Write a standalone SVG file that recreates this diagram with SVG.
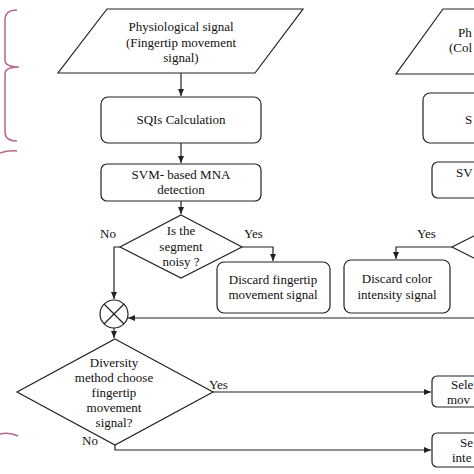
<svg xmlns="http://www.w3.org/2000/svg" width="474" height="474" viewBox="0 0 474 474">
<style>
.s{fill:#fff;stroke:#222;stroke-width:1.2}
.t{font-family:"Liberation Serif","DejaVu Serif",serif;font-size:13px;fill:#111;text-anchor:middle}
.ts{font-family:"Liberation Serif","DejaVu Serif",serif;font-size:13px;fill:#111}
.c{fill:none;stroke:#222;stroke-width:1.2}
.p{fill:none;stroke:#b5678a;stroke-width:1.5}
</style>
<defs>
<marker id="a" markerWidth="8" markerHeight="8" refX="7" refY="4" orient="auto" markerUnits="userSpaceOnUse">
<path d="M0,1 L7,4 L0,7 Z" fill="#222"/>
</marker>
</defs>
<g id="marks">
<path class="p" d="M17,10 Q5,10 5,20 L5,60 Q5,67 19,67 Q5,67 5,74 L5,132 Q5,141 17,141"/>
<path class="p" d="M0,153 Q8,150 17,151"/>
<path class="p" d="M0,434 Q10,432 18,436"/>
</g>
<g id="input1">
<polygon class="s" points="107,9 303,9 255,73 58,73"/>
<text class="t" x="181" y="31">Physiological signal</text>
<text class="t" x="181" y="47">(Fingertip movement</text>
<text class="t" x="181" y="62">signal)</text>
</g>
<g id="sqi1">
<rect class="s" x="101" y="97" width="160" height="46" rx="7"/>
<text class="t" x="181" y="124">SQIs Calculation</text>
</g>
<g id="svm1">
<rect class="s" x="101" y="164" width="160" height="37" rx="6"/>
<text class="t" x="181" y="179">SVM- based MNA</text>
<text class="t" x="181" y="194">detection</text>
</g>
<g id="dec1">
<polygon class="s" points="181,215 242,247 181,278 120,247"/>
<text class="t" x="181" y="235">Is the</text>
<text class="t" x="181" y="251">segment</text>
<text class="t" x="181" y="266">noisy ?</text>
</g>
<g id="discard1">
<rect class="s" x="217" y="262" width="113" height="51" rx="7"/>
<text class="t" x="273" y="284">Discard fingertip</text>
<text class="t" x="273" y="299">movement signal</text>
</g>
<g id="input2">
<polygon class="s" points="443,9 560,9 510,74 396,74"/>
<text class="ts" x="458" y="37">Ph</text>
<text class="ts" x="449" y="52">(Col</text>
</g>
<g id="sqi2">
<rect class="s" x="423" y="93" width="120" height="50" rx="7"/>
<text class="ts" x="465" y="124">S</text>
</g>
<g id="svm2">
<rect class="s" x="432" y="162" width="110" height="36" rx="6"/>
<text class="ts" x="456" y="177">SV</text>
</g>
<g id="dec2">
<polygon class="s" points="513,216 574,247 513,278 452,247"/>
</g>
<g id="discard2">
<rect class="s" x="344" y="260" width="106" height="53" rx="7"/>
<text class="t" x="397" y="283">Discard color</text>
<text class="t" x="397" y="299">intensity signal</text>
</g>
<g id="join">
<circle class="s" cx="114" cy="314" r="14"/>
<path class="c" d="M104,304 L124,324 M124,304 L104,324"/>
</g>
<g id="dec3">
<polygon class="s" points="115,339 213,392 115,445 17,392"/>
<text class="t" x="114" y="367">Diversity</text>
<text class="t" x="114" y="382">method choose</text>
<text class="t" x="114" y="397">fingertip</text>
<text class="t" x="114" y="412">movement</text>
<text class="t" x="114" y="427">signal?</text>
</g>
<g id="select1">
<rect class="s" x="432" y="376" width="100" height="31" rx="5"/>
<text class="ts" x="451" y="389">Sele</text>
<text class="ts" x="447" y="404">mov</text>
</g>
<g id="select2">
<rect class="s" x="432" y="433" width="100" height="34" rx="5"/>
<text class="ts" x="460" y="447">Se</text>
<text class="ts" x="452" y="462">inte</text>
</g>
<g id="connectors">
<path class="c" d="M181,73 L181,96" marker-end="url(#a)"/>
<path class="c" d="M181,143 L181,163" marker-end="url(#a)"/>
<path class="c" d="M181,201 L181,214" marker-end="url(#a)"/>
<path class="c" d="M242,247 L273,247 L273,261" marker-end="url(#a)"/>
<path class="c" d="M120,247 L114,247 L114,299" marker-end="url(#a)"/>
<path class="c" d="M474,318 L128,318" marker-end="url(#a)"/>
<path class="c" d="M114,328 L114,338" marker-end="url(#a)"/>
<path class="c" d="M213,392 L431,392" marker-end="url(#a)"/>
<path class="c" d="M115,445 L115,450 L431,450" marker-end="url(#a)"/>
<path class="c" d="M452,247 L396,247 L396,259" marker-end="url(#a)"/>
</g>
<g id="labels">
<text class="ts" x="100" y="238">No</text>
<text class="ts" x="244" y="238">Yes</text>
<text class="ts" x="417" y="238">Yes</text>
<text class="ts" x="209" y="389">Yes</text>
<text class="ts" x="82" y="445">No</text>
</g>
</svg>
